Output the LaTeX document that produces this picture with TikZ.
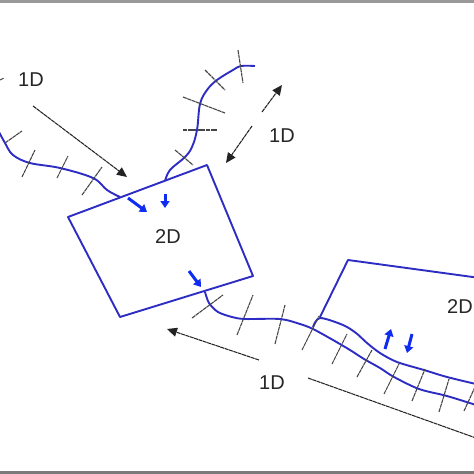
\documentclass[tikz,border=0pt]{standalone}
\usepackage{fontspec}
\setmainfont{Liberation Sans}
\usetikzlibrary{arrows.meta}
\definecolor{riverblue}{RGB}{45,45,195}
\definecolor{flowblue}{RGB}{15,45,240}
\definecolor{tickgray}{RGB}{70,70,70}
\definecolor{arrowgray}{RGB}{35,35,35}
\tikzset{
  river/.style={draw=riverblue, line width=1.9pt, line join=round},
  xsec/.style={draw=tickgray, line width=1.1pt, dash pattern=on 4pt off 0.6pt},
  dirarrow/.style={draw=arrowgray, line width=1.05pt, dash pattern=on 4pt off 0.6pt, -{Triangle[length=10pt,width=9pt]}},
  dirline/.style={draw=arrowgray, line width=1.05pt, dash pattern=on 4pt off 0.6pt},
  flow/.style={draw=flowblue, line width=3pt, -{Triangle[length=7pt,width=9pt]}},
  lbl/.style={font=\fontsize{20}{20}\selectfont, text=black!85, inner sep=0pt}
}
\begin{document}
\begin{tikzpicture}[x=1pt,y=-1pt]
\useasboundingbox (0,0) rectangle (474,474);
\begin{scope}
\clip (0,0) rectangle (474,474);
% frame bands
\fill[black!40] (0,0) rectangle (474,2.5);
\fill[black!52] (0,471.3) rectangle (474,474);

% left 2D box
\coordinate (b1) at (68,217);
\coordinate (b2) at (207,165);
\coordinate (b3) at (253,276);
\coordinate (b4) at (120,317);
\draw[river] (b1) -- (b2) -- (b3) -- (b4) -- cycle;
\node[lbl] (twoDa) at (168,237) {2D};

% right 2D box
\coordinate (r1) at (320,317);
\coordinate (r2) at (348,260);
\coordinate (r3) at (480,278);
\draw[river] (r1) -- (r2) -- (r3);
\node[lbl, anchor=west] (twoDb) at (447,307) {2D};

% rivers
\draw[river] plot[smooth, tension=0.6] coordinates {(-2,130) (5,143) (13,155) (30,163) (60,168) (93,178) (107,190) (120,197)};
\draw[river] plot[smooth, tension=0.6] coordinates {(165,181) (170,170) (185,157) (192,147) (197,130) (200,104) (207,90) (217,80) (233,70) (241,66) (255,66)};
\draw[river] plot[smooth, tension=0.5] coordinates {(205,292) (209,303) (218,312) (232,317) (245,319) (280,319) (300,324) (313,329) (333,340) (350,350) (364,359) (380,368) (394,377) (419,389) (447,396) (476,405)};
\draw[river] plot[smooth, tension=0.5] coordinates {(313,327) (320,318) (343,325) (356,333) (367,343) (380,353) (397,362) (424,370) (447,377) (476,384)};

% cross sections, upper-left river
\draw[xsec] (0,80) -- (4,78);
\draw[xsec] (5,143) -- (22,131);
\draw[xsec] (22,177) -- (35,150);
\draw[xsec] (57,178) -- (68,156);
\draw[xsec] (82,195) -- (102,167);
% cross sections, upper river
\draw[xsec] (175,150) -- (193,165);
\draw[xsec] (183,130) -- (217,130);
\draw[xsec] (183,97) -- (225,113);
\draw[xsec] (205,70) -- (225,90);
\draw[xsec] (238,50) -- (243,83);
% cross sections, lower river
\draw[xsec] (192,318) -- (223,295);
\draw[xsec] (237,335) -- (253,295);
\draw[xsec] (275,344) -- (285,305);
\draw[xsec] (302,350) -- (319,316);
\draw[xsec] (332,364) -- (347,334);
\draw[xsec] (357,377) -- (372,350);
\draw[xsec] (384,394) -- (400,362);
\draw[xsec] (412,401) -- (425,369);
\draw[xsec] (439,412) -- (449,379);
\draw[xsec] (464,411) -- (475,387);

% 1D direction arrows
\coordinate (a1s) at (33,106);
\coordinate (a1e) at (127,177);
\draw[dirarrow] (a1s) -- (a1e);
\node[lbl] (oneDa) at (31,79.5) {1D};

\coordinate (a2s) at (262,112);
\coordinate (a2e) at (282,85);
\draw[dirarrow] (a2s) -- (a2e);
\coordinate (a3s) at (252,126);
\coordinate (a3e) at (226,163);
\draw[dirarrow] (a3s) -- (a3e);
\node[lbl] (oneDb) at (282,135.5) {1D};

\coordinate (a4s) at (259,360);
\coordinate (a4e) at (167,329);
\draw[dirarrow] (a4s) -- (a4e);
\coordinate (a5s) at (308,378);
\coordinate (a5e) at (476,438);
\draw[dirline] (a5s) -- (a5e);
\node[lbl] (oneDc) at (272,382.5) {1D};

% flow exchange arrows
\coordinate (f1s) at (128,198);
\coordinate (f1e) at (147,212);
\draw[flow] (f1s) -- (f1e);
\coordinate (f2s) at (165,194);
\coordinate (f2e) at (165,208);
\draw[flow] (f2s) -- (f2e);
\coordinate (f3s) at (189,271);
\coordinate (f3e) at (201,287);
\draw[flow] (f3s) -- (f3e);
\coordinate (f4s) at (385,349);
\coordinate (f4e) at (391,329);
\draw[flow] (f4s) -- (f4e);
\coordinate (f5s) at (412,334);
\coordinate (f5e) at (407,353);
\draw[flow] (f5s) -- (f5e);
\end{scope}
\end{tikzpicture}
\end{document}
